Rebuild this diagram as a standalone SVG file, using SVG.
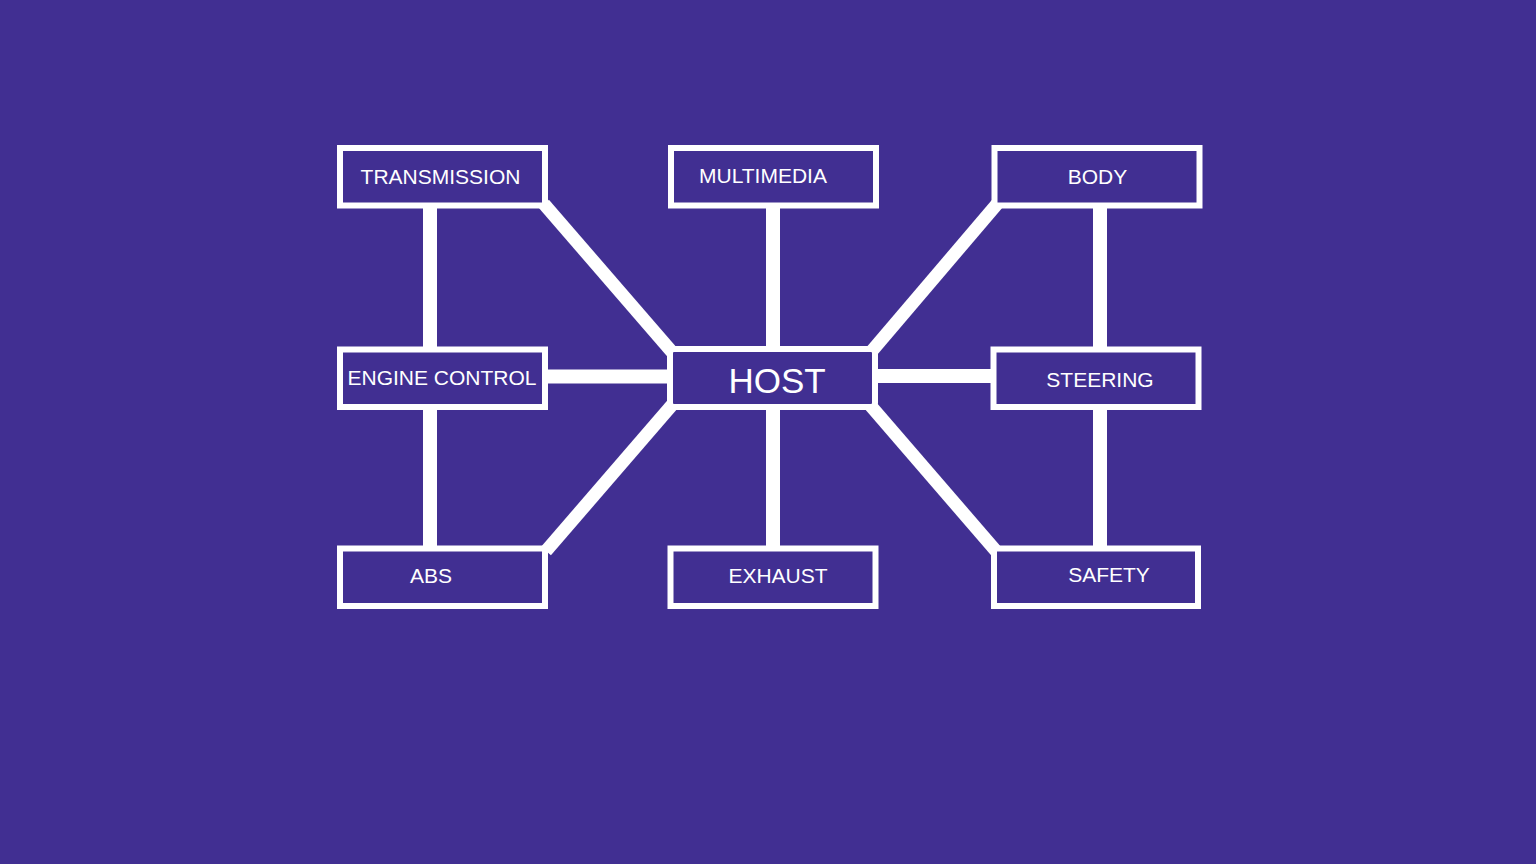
<svg xmlns="http://www.w3.org/2000/svg" width="1536" height="864" viewBox="0 0 1536 864">
  <style>
    .bg { fill: #412f92; }
    .box { fill: #412f92; stroke: #ffffff; stroke-width: 6; }
    .lbl { font-family: "Liberation Sans", Arial, sans-serif; font-size: 21px; fill: #ffffff; text-anchor: middle; }
    .host { font-size: 35px; }
    .conn { stroke: #ffffff; stroke-width: 14; fill: none; }
    .diag { stroke: #ffffff; stroke-width: 13; fill: none; }
  </style>
  <rect class="bg" x="0" y="0" width="1536" height="864"/>
  <g id="connectors">
    <line class="conn" x1="430" y1="205" x2="430" y2="350"/>
    <line class="conn" x1="430" y1="407" x2="430" y2="549"/>
    <line class="conn" x1="773" y1="205" x2="773" y2="350"/>
    <line class="conn" x1="773" y1="407" x2="773" y2="549"/>
    <line class="conn" x1="1100" y1="205" x2="1100" y2="350"/>
    <line class="conn" x1="1100" y1="407" x2="1100" y2="549"/>
    <line class="conn" x1="545" y1="376.5" x2="672" y2="376.5"/>
    <line class="conn" x1="873" y1="376" x2="995" y2="376"/>
    <line class="diag" x1="544" y1="204" x2="672" y2="352"/>
    <line class="diag" x1="997" y1="204" x2="871" y2="352"/>
    <line class="diag" x1="546" y1="551" x2="672" y2="405"/>
    <line class="diag" x1="996" y1="551" x2="870" y2="405"/>
  </g>
  <g id="transmission">
    <rect class="box" x="340" y="148" width="205" height="57.5"/>
    <text class="lbl" x="440.5" y="184">TRANSMISSION</text>
  </g>
  <g id="multimedia">
    <rect class="box" x="671" y="148" width="205" height="57.5"/>
    <text class="lbl" x="763" y="183">MULTIMEDIA</text>
  </g>
  <g id="body">
    <rect class="box" x="994.5" y="148" width="205" height="57.5"/>
    <text class="lbl" x="1097.5" y="184">BODY</text>
  </g>
  <g id="engine-control">
    <rect class="box" x="340" y="349.5" width="205" height="57.5"/>
    <text class="lbl" x="442" y="385">ENGINE CONTROL</text>
  </g>
  <g id="host">
    <rect class="box" x="670" y="349" width="205" height="58" rx="4" ry="4"/>
    <text class="lbl host" x="777" y="393">HOST</text>
  </g>
  <g id="steering">
    <rect class="box" x="993.5" y="349.5" width="205" height="57.5"/>
    <text class="lbl" x="1100" y="387">STEERING</text>
  </g>
  <g id="abs">
    <rect class="box" x="340" y="548.5" width="205" height="57.5"/>
    <text class="lbl" x="431" y="583">ABS</text>
  </g>
  <g id="exhaust">
    <rect class="box" x="670.5" y="548.5" width="205" height="57.5"/>
    <text class="lbl" x="778" y="583">EXHAUST</text>
  </g>
  <g id="safety">
    <rect class="box" x="994" y="548.5" width="204" height="57.5"/>
    <text class="lbl" x="1109" y="582">SAFETY</text>
  </g>
</svg>
